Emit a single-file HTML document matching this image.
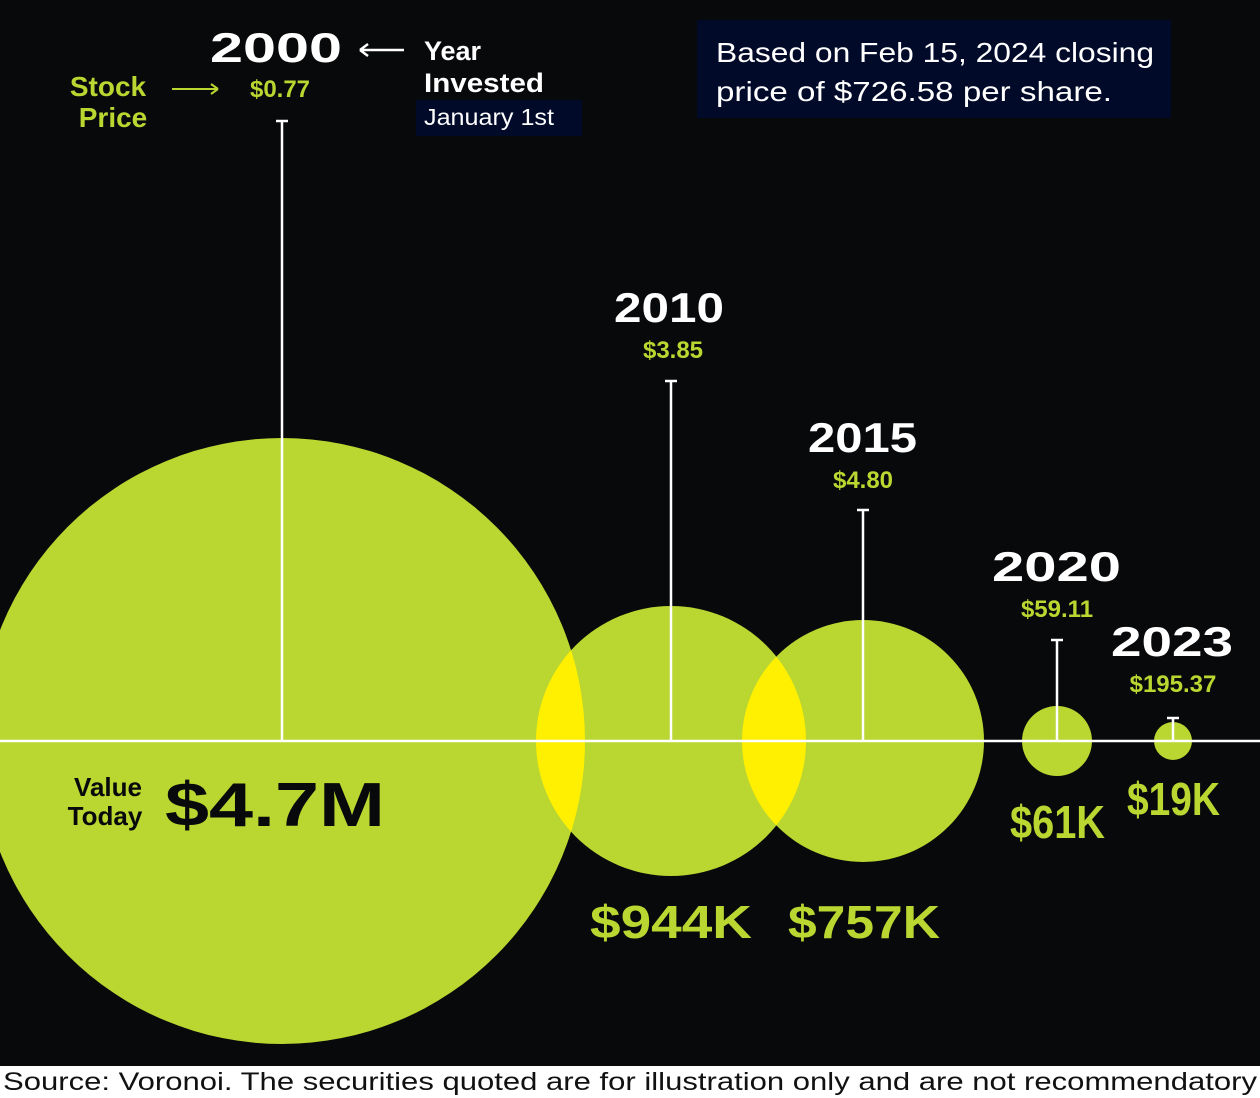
<!DOCTYPE html>
<html><head><meta charset="utf-8"><style>
html,body{margin:0;padding:0;background:#fff}
svg{display:block}
</style></head><body>
<svg width="1260" height="1098" viewBox="0 0 1260 1098" xmlns="http://www.w3.org/2000/svg" font-family="'Liberation Sans', sans-serif">
<defs>
<clipPath id="c1"><circle cx="282" cy="741" r="303"/></clipPath>
<clipPath id="c3"><circle cx="863" cy="741" r="121"/></clipPath>
</defs>
<rect x="0" y="0" width="1260" height="1066" fill="#08090b"/>
<g fill="#b9d631">
<circle cx="282" cy="741" r="303"/>
<circle cx="671" cy="741" r="135"/>
<circle cx="863" cy="741" r="121"/>
<circle cx="1057" cy="741" r="35"/>
<circle cx="1173" cy="741" r="19"/>
</g>
<circle cx="671" cy="741" r="135" fill="#ffef00" clip-path="url(#c1)"/>
<circle cx="671" cy="741" r="135" fill="#ffef00" clip-path="url(#c3)"/>
<g stroke="#fff" stroke-width="2.5" fill="none">
<line x1="0" y1="741" x2="1260" y2="741"/>
<line x1="282" y1="121" x2="282" y2="741"/><line x1="276" y1="121" x2="288" y2="121"/>
<line x1="671" y1="381" x2="671" y2="741"/><line x1="665" y1="381" x2="677" y2="381"/>
<line x1="863" y1="510" x2="863" y2="741"/><line x1="857" y1="510" x2="869" y2="510"/>
<line x1="1057" y1="640" x2="1057" y2="741"/><line x1="1051" y1="640" x2="1063" y2="640"/>
<line x1="1173" y1="718" x2="1173" y2="741"/><line x1="1167" y1="718" x2="1179" y2="718"/>
<path d="M360 50 H404 M360 50 l8 -6 M360 50 l8 6"/>
</g>
<g stroke="#b9d631" stroke-width="2" fill="none"><path d="M172 89 H218 M218 89 l-7 -5 M218 89 l-7 5"/></g>
<g font-weight="bold" fill="#fff" font-size="42" lengthAdjust="spacingAndGlyphs">
<text x="210" y="62" textLength="132" lengthAdjust="spacingAndGlyphs">2000</text>
<text x="614" y="322" textLength="110" lengthAdjust="spacingAndGlyphs">2010</text>
<text x="808" y="452" textLength="109" lengthAdjust="spacingAndGlyphs">2015</text>
<text x="992" y="581" textLength="129" lengthAdjust="spacingAndGlyphs">2020</text>
<text x="1111" y="656" textLength="122" lengthAdjust="spacingAndGlyphs">2023</text>
</g>
<g fill="#b9d631" text-anchor="middle" font-size="24" font-weight="bold">
<text x="280" y="97">$0.77</text>
<text x="673" y="358">$3.85</text>
<text x="863" y="488">$4.80</text>
<text x="1057" y="617">$59.11</text>
<text x="1173" y="692">$195.37</text>
</g>
<g fill="#b9d631" font-weight="bold" font-size="28" text-anchor="middle">
<text x="108" y="96">Stock</text><text x="113" y="127">Price</text>
</g>
<g fill="#b9d631" font-weight="bold" font-size="46">
<text x="590" y="938" textLength="162" lengthAdjust="spacingAndGlyphs">$944K</text>
<text x="788" y="938" textLength="152" lengthAdjust="spacingAndGlyphs">$757K</text>
<text x="1010" y="838" textLength="95" lengthAdjust="spacingAndGlyphs">$61K</text>
<text x="1127" y="815" textLength="93" lengthAdjust="spacingAndGlyphs">$19K</text>
</g>
<text x="165" y="826" fill="#08090b" font-weight="bold" font-size="62" textLength="220" lengthAdjust="spacingAndGlyphs">$4.7M</text>
<g fill="#08090b" font-weight="bold" font-size="26" text-anchor="middle">
<text x="108" y="796">Value</text><text x="105" y="825">Today</text>
</g>
<g fill="#fff" font-weight="bold" font-size="27">
<text x="424" y="60">Year</text><text x="424" y="92" textLength="120" lengthAdjust="spacingAndGlyphs">Invested</text>
</g>
<rect x="416" y="100" width="166" height="36" fill="#020a2a"/>
<text x="424" y="125" fill="#fff" font-size="23" textLength="130" lengthAdjust="spacingAndGlyphs">January 1st</text>
<rect x="697" y="20" width="474" height="98" fill="#020a2a"/>
<text x="716" y="62" fill="#fff" font-size="28" textLength="438" lengthAdjust="spacingAndGlyphs">Based on Feb 15, 2024 closing</text>
<text x="716" y="101" fill="#fff" font-size="28" textLength="396" lengthAdjust="spacingAndGlyphs">price of $726.58 per share.</text>
<text x="3" y="1090" fill="#111" font-size="25" textLength="1254" lengthAdjust="spacingAndGlyphs">Source: Voronoi. The securities quoted are for illustration only and are not recommendatory</text>
</svg>
</body></html>
